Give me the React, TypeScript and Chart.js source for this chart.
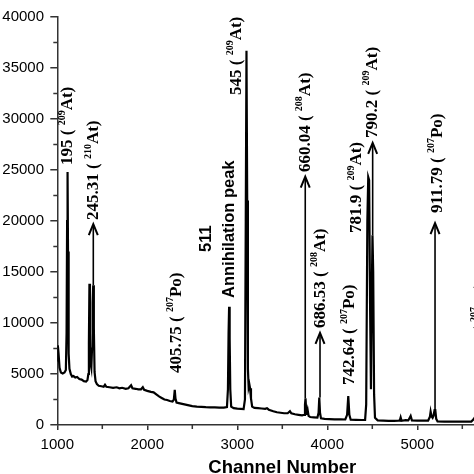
import React, { useEffect, useRef } from 'react';
import { Chart, registerables } from 'chart.js';

Chart.register(...registerables);

// Spectrum (channel number vs counts)
const channels = [
  1000, 1006, 1014, 1025, 1040, 1060, 1080, 1095, 1103, 1109, 1114, 1119, 1126, 1135, 1150, 1165, 1180, 1200,
  1220, 1245, 1270, 1295, 1320, 1335, 1345, 1351, 1357, 1363, 1370, 1378, 1386, 1393, 1399, 1406, 1414, 1425,
  1440, 1460, 1490, 1515, 1530, 1545, 1580, 1620, 1660, 1690, 1720, 1760, 1790, 1820, 1835, 1870, 1900, 1930,
  1950, 1965, 2000, 2040, 2070, 2100, 2130, 2160, 2190, 2220, 2250, 2280, 2295, 2305, 2313, 2325, 2350, 2400,
  2450, 2500, 2550, 2600, 2650, 2700, 2750, 2800, 2850, 2885, 2896, 2903, 2909, 2915, 2922, 2932, 2960, 3000,
  3040, 3070, 3085, 3094, 3102, 3110, 3118, 3126, 3134, 3142, 3152, 3165, 3190, 3230, 3270, 3310, 3330, 3350,
  3400, 3440, 3480, 3520, 3560, 3585, 3600, 3640, 3680, 3720, 3745, 3752, 3758, 3765, 3772, 3782, 3792, 3810,
  3850, 3890, 3903, 3911, 3919, 3930, 3970, 4020, 4080, 4150, 4200, 4220, 4233, 4245, 4260, 4320, 4380, 4420,
  4432, 4445, 4455, 4465, 4475, 4485, 4493, 4502, 4510, 4520, 4530, 4560, 4620, 4680, 4740, 4790, 4805, 4815,
  4825, 4870, 4900, 4926, 4940, 5000, 5060, 5120, 5140, 5148, 5158, 5170, 5180, 5192, 5200, 5210, 5225, 5300,
  5400, 5500, 5600, 5625, 5650, 5680, 5700, 5720, 5740, 5800, 5900, 6000,
];
const counts = [
  6300, 7800, 7000, 5600, 5150, 5050, 5150, 5400, 9000, 20000, 24800, 17000, 7000, 5500, 5000, 4750, 4800, 4650,
  4700, 4500, 4450, 4300, 4250, 4400, 5000, 8000, 13850, 9000, 6000, 5600, 7500, 12000, 13700, 9500, 5200, 4300,
  4000, 3850, 3800, 3750, 3950, 3750, 3700, 3650, 3700, 3600, 3650, 3550, 3600, 3900, 3600, 3550, 3500, 3500,
  3700, 3450, 3350, 3250, 3200, 3000, 2800, 2650, 2500, 2450, 2350, 2300, 2500, 3450, 2600, 2200, 2150, 2050,
  1950, 1850, 1800, 1780, 1750, 1730, 1720, 1700, 1700, 1750, 3500, 9000, 11600, 8500, 3500, 1800, 1650, 1600,
  1580, 1560, 2500, 20000, 36700, 22000, 5500, 3700, 4000, 3600, 2600, 1800, 1680, 1650, 1620, 1580, 1650, 1500,
  1350, 1250, 1200, 1150, 1150, 1350, 1150, 1050, 1000, 950, 1000, 2000, 2620, 1500, 1000, 1450, 900, 780,
  750, 720, 1200, 2700, 1200, 650, 600, 580, 560, 550, 540, 1000, 2840, 1000, 520, 500, 490, 500,
  2000, 20000, 24300, 24000, 12000, 3500, 12000, 18600, 15000, 3000, 700, 450, 420, 400, 400, 420, 430, 750,
  420, 480, 450, 880, 450, 430, 420, 430, 800, 1300, 850, 700, 900, 1470, 1470, 600, 350, 340,
  330, 330, 340, 560, 900, 1500, 2900, 1500, 500, 300, 280, 260,
];

// Axis ticks
const xMajorTicks = [1000, 2000, 3000, 4000, 5000, 6000];
const xMinorTicks = [1500, 2500, 3500, 4500, 5500];
const yMajorTicks = [0, 5000, 10000, 15000, 20000, 25000, 30000, 35000, 40000];
const yMinorTicks = [2500, 7500, 12500, 17500, 22500, 27500, 32500, 37500];

// Peak labels (rotated): "main ( " + superscript + element
const labelMain = ['195 ( ', '245.31 ( ', '405.75 ( ', '545 ( ', '660.04 ( ', '686.53 ( ', '742.64 ( ', '781.9 ( ', '790.2 ( ', '911.79 ( ', '992.33 ( '];
const labelSup = ['209', '210', '207', '209', '208', '208', '207', '209', '209', '207', '207'];
const labelEnd = ['At)', 'At)', 'Po)', 'At)', 'At)', 'At)', 'Po)', 'At)', 'At)', 'Po)', 'Po)'];
const labelChannel = [1119, 1408, 2327, 2991, 3758, 3924, 4252, 4330, 4502, 5224, 5700];
const labelCounts = [25490, 20100, 5100, 32350, 24800, 9510, 3920, 18820, 28140, 20780, 4120];

// Sans-serif annotation texts
const noteText = ['511', 'Annihilation peak'];
const noteChannel = [2660, 2913];
const noteCounts = [16960, 12450];

// Arrows from peak tops up to the labels
const arrowChannel = [1400, 3755, 3919, 4504, 5197];
const arrowFrom = [13700, 2620, 2700, 18600, 1470];
const arrowTo = [19700, 24340, 9020, 27650, 19800];

const annotationPlugin = {
  id: 'peakAnnotations',
  afterDraw(chart: any) {
    const ctx: CanvasRenderingContext2D = chart.ctx;
    const xs = chart.scales.x;
    const ys = chart.scales.y;
    ctx.save();
    // minor ticks
    ctx.strokeStyle = '#333';
    ctx.lineWidth = 1.5;
    xMinorTicks.forEach((v) => {
      const px = xs.getPixelForValue(v);
      ctx.beginPath();
      ctx.moveTo(px, ys.bottom);
      ctx.lineTo(px, ys.bottom + 4);
      ctx.stroke();
    });
    yMinorTicks.forEach((v) => {
      const py = ys.getPixelForValue(v);
      ctx.beginPath();
      ctx.moveTo(xs.left, py);
      ctx.lineTo(xs.left - 4, py);
      ctx.stroke();
    });

    // arrows
    ctx.strokeStyle = '#000';
    arrowChannel.forEach((c, i) => {
      const px = xs.getPixelForValue(c);
      const y0 = ys.getPixelForValue(arrowFrom[i]);
      const y1 = ys.getPixelForValue(arrowTo[i]);
      ctx.lineWidth = 1.6;
      ctx.beginPath();
      ctx.moveTo(px, y0);
      ctx.lineTo(px, y1 + 1);
      ctx.stroke();
      ctx.lineWidth = 2;
      ctx.beginPath();
      ctx.moveTo(px - 4.5, y1 + 11);
      ctx.lineTo(px, y1);
      ctx.lineTo(px + 4.5, y1 + 11);
      ctx.stroke();
    });

    // rotated serif labels
    ctx.fillStyle = '#000';
    ctx.textAlign = 'left';
    ctx.textBaseline = 'middle';
    labelMain.forEach((t, i) => {
      const px = xs.getPixelForValue(labelChannel[i]);
      const py = ys.getPixelForValue(labelCounts[i]);
      ctx.save();
      ctx.translate(px, py);
      ctx.rotate(-Math.PI / 2);
      ctx.font = 'bold 17px "Liberation Serif"';
      ctx.fillText(t, 0, 0);
      let w = ctx.measureText(t).width;
      ctx.font = 'bold 10px "Liberation Serif"';
      ctx.fillText(labelSup[i], w, -6);
      w += ctx.measureText(labelSup[i]).width;
      ctx.font = 'bold 17px "Liberation Serif"';
      ctx.fillText(labelEnd[i], w, 0);
      ctx.restore();
    });

    // sans notes
    noteText.forEach((t, i) => {
      const px = xs.getPixelForValue(noteChannel[i]);
      const py = ys.getPixelForValue(noteCounts[i]);
      ctx.save();
      ctx.translate(px, py);
      ctx.rotate(-Math.PI / 2);
      ctx.font = 'bold 16.5px "Liberation Sans"';
      ctx.fillText(t, 0, 0);
      ctx.restore();
    });
    ctx.restore();
  },
};

export default function App() {
  const canvasRef = useRef<HTMLCanvasElement | null>(null);

  useEffect(() => {
    const canvas = canvasRef.current;
    if (!canvas) return;
    const data = channels.map((c, i) => ({ x: c, y: counts[i] }));
    const chart = new Chart(canvas, {
      type: 'line',
      data: {
        datasets: [
          {
            data,
            borderColor: '#000',
            borderWidth: 2.2,
            pointRadius: 0,
            tension: 0,
            fill: false,
          },
        ],
      },
      options: {
        responsive: false,
        animation: false,
        devicePixelRatio: 1,
        layout: { padding: { left: 0, top: 17, right: 22.7, bottom: 0 } },
        plugins: { legend: { display: false }, tooltip: { enabled: false } },
        scales: {
          x: {
            type: 'linear',
            min: 1000,
            max: 6000,
            afterFit: (s: any) => {
              s.height = 67;
            },
            afterBuildTicks: (s: any) => {
              s.ticks = xMajorTicks.map((v) => ({ value: v }));
            },
            ticks: {
              color: '#000',
              font: { family: 'Liberation Sans', size: 15 },
              padding: 6,
              maxRotation: 0,
              autoSkip: false,
              callback: (v: any) => String(v),
            },
            grid: { drawOnChartArea: false, drawTicks: true, tickLength: 5, color: '#333', lineWidth: 1.5 },
            border: { display: true, color: '#333', width: 1.5 },
            title: {
              display: true,
              text: 'Channel Number',
              color: '#000',
              font: { family: 'Liberation Sans', size: 18.5, weight: 'bold' },
              padding: { top: 0, bottom: 13 },
            },
          },
          y: {
            type: 'linear',
            min: 0,
            max: 40000,
            afterFit: (s: any) => {
              s.width = 57.3;
            },
            afterBuildTicks: (s: any) => {
              s.ticks = yMajorTicks.map((v) => ({ value: v }));
            },
            ticks: {
              color: '#000',
              font: { family: 'Liberation Sans', size: 15 },
              padding: 6.3,
              autoSkip: false,
              callback: (v: any) => String(v),
            },
            grid: { drawOnChartArea: false, drawTicks: true, tickLength: 7, color: '#333', lineWidth: 1.5 },
            border: { display: true, color: '#333', width: 1.5 },
          },
        },
      },
      plugins: [annotationPlugin],
    });
    return () => chart.destroy();
  }, []);

  return (
    <div style={{ position: 'absolute', left: 0, top: 0, width: 474, height: 474, overflow: 'hidden', background: '#fff' }}>
      <canvas ref={canvasRef} width={530} height={492} style={{ width: 530, height: 492, display: 'block' }} />
    </div>
  );
}
